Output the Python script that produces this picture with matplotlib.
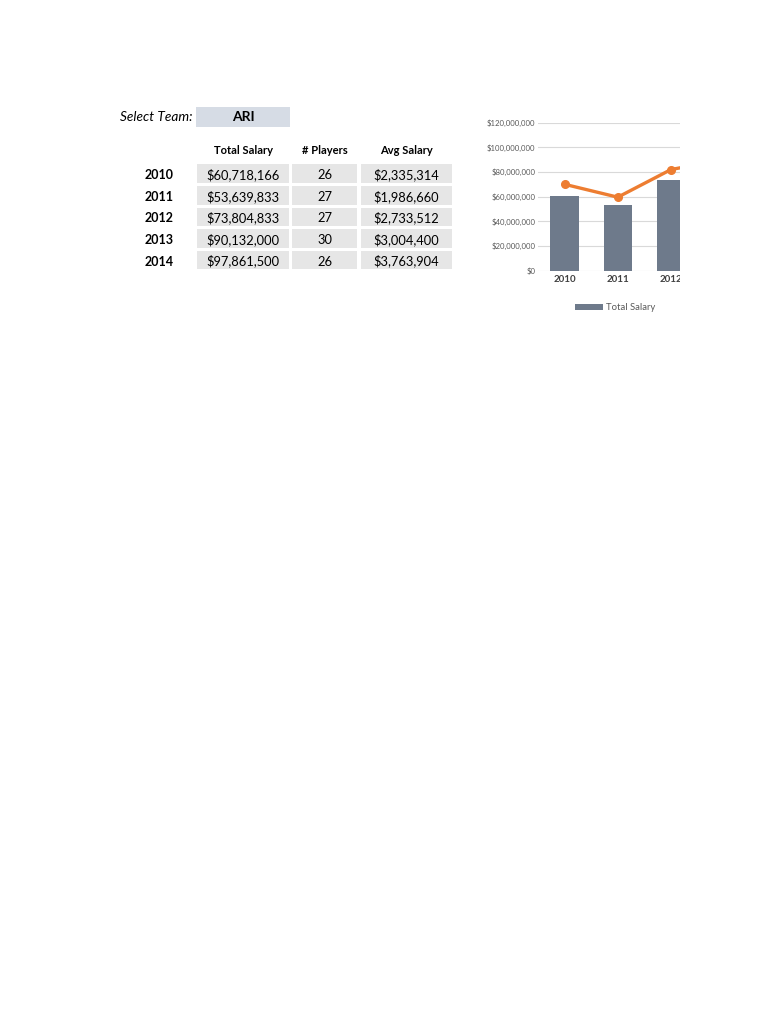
import matplotlib
matplotlib.use("Agg")
import matplotlib.pyplot as plt
from matplotlib.patches import Rectangle
from matplotlib.ticker import FuncFormatter

years = ["2010", "2011", "2012", "2013", "2014"]
total_salary = [60718166, 53639833, 73804833, 90132000, 97861500]
players = [26, 27, 27, 30, 26]
avg_salary = [2335314, 1986660, 2733512, 3004400, 3763904]
team = "ARI"
headers = ["Total Salary", "# Players", "Avg Salary"]
legend_label = "Total Salary"

W, H = 768, 1024
plt.rcParams['font.family'] = ['Lato', 'DejaVu Sans']
fig = plt.figure(figsize=(W / 100, H / 100), dpi=100)
fig.patch.set_facecolor("white")


def fx(px):
    return px / W


def fy(py):
    return 1 - py / H


def rect(x0, y0, x1, y1, color, z=1):
    fig.add_artist(Rectangle((fx(x0), fy(y1)), fx(x1) - fx(x0), fy(y0) - fy(y1),
                             transform=fig.transFigure, facecolor=color,
                             edgecolor="none", zorder=z))


# --- table ---
fig.text(fx(193), fy(121), "Select Team:", ha="right", va="baseline",
         fontsize=9.8, style="italic", color="#000000")
rect(196, 106.7, 290, 126.7, "#D6DCE5")
fig.text(fx(243), fy(121), team, ha="center", va="baseline", fontsize=10,
         fontweight="bold", color="#000000")

col_bounds = [(197, 289), (292, 357), (361, 452)]
for (x0, x1), h in zip(col_bounds, headers):
    fig.text(fx((x0 + x1) / 2), fy(154), h, ha="center", va="baseline",
             fontsize=8, fontweight="bold", color="#000000")

row_tops = [164.3, 186.0, 207.5, 229.0, 250.5]
cell_h = 18.5
for i, yr in enumerate(years):
    y0 = row_tops[i]
    yb = y0 + 15
    fig.text(fx(159), fy(yb), yr, ha="center", va="baseline", fontsize=9,
             fontweight="bold", color="#000000")
    vals = [f"${total_salary[i]:,}", f"{players[i]}", f"${avg_salary[i]:,}"]
    for (x0, x1), v in zip(col_bounds, vals):
        rect(x0, y0, x1, y0 + cell_h, "#E6E6E6")
        fig.text(fx((x0 + x1) / 2), fy(yb), v, ha="center", va="baseline",
                 fontsize=9.3, color="#000000", zorder=3)

# --- chart (cropped at right edge) ---
ax_l, ax_r, ax_t, ax_b = 538, 680, 122.7, 270.7
ax = fig.add_axes([fx(ax_l), fy(ax_b), fx(ax_r) - fx(ax_l), fy(ax_t) - fy(ax_b)])
xs = list(range(len(years)))
bars = ax.bar(xs, total_salary, width=0.53, color="#6E7A8B", zorder=2,
              label=legend_label)
ax.set_ylim(0, 120000000)
ax.set_yticks(range(0, 120000001, 20000000))
ax.yaxis.set_major_formatter(FuncFormatter(lambda v, p: f"${int(v):,}"))
ax.set_xlim(-0.5, 2.17)
ax.set_xticks(xs)
ax.set_xticklabels(years)
ax.grid(axis="y", color="#D9D9D9", linewidth=0.8, zorder=0)
for s in ax.spines.values():
    s.set_visible(False)
ax.tick_params(axis="both", length=0)
ax.tick_params(axis="y", labelsize=5.6, labelcolor="#595959", pad=2)
ax.tick_params(axis="x", labelsize=7, labelcolor="#404040", pad=3)
for lab in ax.get_xticklabels():
    lab.set_fontweight("bold")

ax2 = ax.twinx()
ax2.set_ylim(0, 4000000)
ax2.plot(xs, avg_salary, color="#ED7D31", linewidth=2.4, marker="o",
         markersize=5.5, zorder=3)
ax2.axis("off")
ax2.set_xlim(-0.5, 2.17)

# crop everything of the chart that lies right of its visible edge
fig.add_artist(Rectangle((fx(680), fy(290)), 1 - fx(680), fy(110) - fy(290),
                         transform=fig.transFigure, facecolor="white",
                         edgecolor="none", zorder=10))

fig.legend(handles=[bars], labels=[legend_label], loc="center left",
           bbox_to_anchor=(fx(575), fy(307.5)), frameon=False, fontsize=6.8,
           handlelength=3.0, handleheight=0.6, handletextpad=0.25,
           labelcolor="#595959", borderpad=0, borderaxespad=0)

fig.savefig("out.png", dpi=100, facecolor="white")
